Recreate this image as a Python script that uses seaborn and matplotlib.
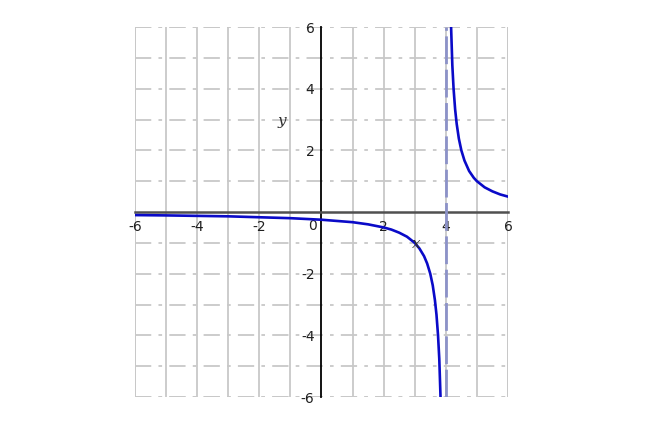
"""Graph of a hyperbola with a vertical asymptote at x = 4."""

import matplotlib
matplotlib.use("Agg")
import matplotlib.pyplot as plt
import pandas as pd
import seaborn as sns

# points
left_x = [-6, -5, -4, -3, -2, -1, 0, 0.5, 1, 1.5, 2, 2.25, 2.5, 2.75, 3, 3.15,
          3.3, 3.4, 3.5, 3.58, 3.65, 3.7, 3.75, 3.79, 3.83]
left_y = [-0.1, -0.11, -0.125, -0.14, -0.17, -0.2, -0.25, -0.29, -0.33, -0.4,
          -0.5, -0.57, -0.67, -0.8, -1.0, -1.18, -1.43, -1.67, -2.0, -2.38,
          -2.86, -3.33, -4.0, -4.76, -6.0]
right_x = [4.17, 4.21, 4.25, 4.3, 4.35, 4.42, 4.5, 4.6, 4.75, 4.9, 5, 5.25,
           5.5, 5.75, 6]
right_y = [6.0, 4.76, 4.0, 3.33, 2.86, 2.38, 2.0, 1.67, 1.33, 1.11, 1.0, 0.8,
           0.67, 0.57, 0.5]
asymptote_x = 4
tick_values = [-6, -4, -2, 2, 4, 6]
grid_values = [-5, -3, -1, 1, 3, 5]

curve = pd.concat([
    pd.DataFrame({"x": left_x, "y": left_y, "branch": "left"}),
    pd.DataFrame({"x": right_x, "y": right_y, "branch": "right"}),
], ignore_index=True)

sns.set_style("white")
fig = plt.figure(figsize=(6.48, 4.22), dpi=100)
ax = fig.add_axes([0.2083, 0.0592, 0.5756, 0.8768])

sns.lineplot(data=curve, x="x", y="y", units="branch", estimator=None,
             sort=False, color="#0a0ac8", lw=1.9, ax=ax, zorder=5)
ax.axvline(asymptote_x, color="#8c92c8", lw=2, ls=(0, (10, 2)), zorder=4)

ax.set_xlim(-6, 6)
ax.set_ylim(-6, 6)
ax.set_xticks(tick_values)
ax.set_yticks(tick_values)
ax.set_xticks(grid_values, minor=True)
ax.set_yticks(grid_values, minor=True)

dashdot = (0, (9, 4, 2, 4))
ax.xaxis.grid(True, which="both", color="#c8c8c8", lw=1.3, ls="-")
ax.yaxis.grid(True, which="both", color="#c8c8c8", lw=1.3, ls=dashdot)
ax.axvline(-6, color="#c8c8c8", lw=1.3, zorder=0)
ax.axvline(6, color="#c8c8c8", lw=1.3, zorder=0)
ax.axhline(6, color="#c8c8c8", lw=1.3, ls=dashdot, zorder=0)
ax.axhline(-6, color="#c8c8c8", lw=1.3, ls=dashdot, zorder=0)

for side in ["top", "right"]:
    ax.spines[side].set_visible(False)
ax.spines["left"].set_position(("data", 0))
ax.spines["bottom"].set_position(("data", 0))
ax.spines["left"].set_color("black")
ax.spines["left"].set_linewidth(1.3)
ax.spines["bottom"].set_color("#505050")
ax.spines["bottom"].set_linewidth(1.8)

ax.tick_params(axis="x", which="major", direction="in", length=4, width=1,
               labelsize=10, labelcolor="#202020", pad=6)
ax.tick_params(axis="y", which="major", direction="out", length=4, width=1,
               labelsize=10, labelcolor="#202020", pad=1)
ax.tick_params(which="minor", length=0)
ax.set_xticklabels([str(v) for v in tick_values])
ax.set_yticklabels([str(v) for v in tick_values])

ax.set_xlabel("")
ax.set_ylabel("")
ax.text(-0.28, -0.45, "0", fontsize=10, color="#202020", ha="center", va="center")
ax.text(3.05, -1.05, "x", fontsize=11, family="DejaVu Serif", style="italic",
        color="#303030", ha="center", va="center", zorder=6)
ax.text(-1.28, 2.95, "y", fontsize=11, family="DejaVu Serif", style="italic",
        color="#303030", ha="center", va="center")

fig.savefig("out.png", dpi=100)
